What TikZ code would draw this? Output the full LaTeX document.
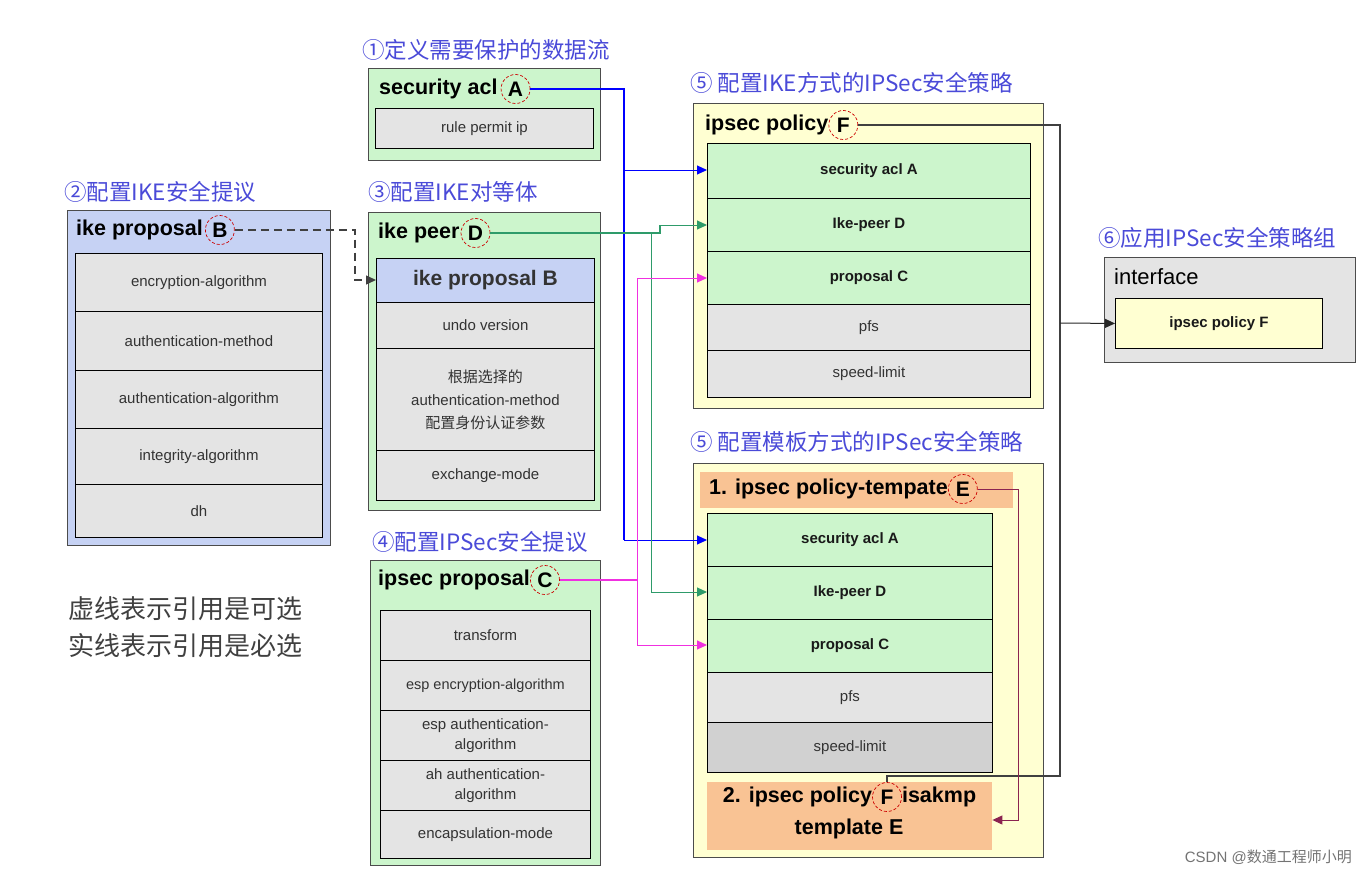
\documentclass[tikz,border=0pt]{standalone}
\usepackage{fontspec}
\setmainfont{Liberation Sans}
\newfontfamily\cjk{Noto Sans CJK SC}
\usetikzlibrary{arrows.meta}
\definecolor{gfill}{HTML}{CCF5CC}
\definecolor{grayf}{HTML}{E4E4E4}
\definecolor{bfill}{HTML}{C6D2F4}
\definecolor{yfill}{HTML}{FFFFD2}
\definecolor{ofill}{HTML}{F9C394}
\definecolor{ttl}{HTML}{4A4AD8}
\definecolor{dgreen}{HTML}{2E9B6A}
\definecolor{mag}{HTML}{F030E0}
\definecolor{dred}{HTML}{8B2350}
\begin{document}
\begin{tikzpicture}[x=1pt,y=-1pt,
  box/.style={draw=black!70,line width=1.2pt,anchor=north west,inner sep=0pt},
  row/.style={draw=black,line width=0.9pt,anchor=north west,inner sep=0pt,font=\fontsize{15}{17}\selectfont,align=center,text=black!80},
  brow/.style={row,fill=gfill,font=\bfseries\fontsize{15}{17}\selectfont,text=black!90},
  hdr/.style={anchor=west,font=\bfseries\fontsize{21.5}{24}\selectfont,inner sep=0pt},
  ttlst/.style={anchor=west,text=ttl,font=\cjk\fontsize{22.5}{26}\selectfont,inner sep=0pt},
  circ/.style={circle,draw=red!80!black,densely dashed,line width=0.7pt,minimum size=29pt,inner sep=0pt,font=\bfseries\fontsize{21}{23}\selectfont},
  arr/.style={-{Triangle[length=10pt,width=9pt]},line width=1pt}]
\useasboundingbox (0,0) rectangle (1366,875);
% titles
\node[ttlst] (t1) at (362,50) {①定义需要保护的数据流};
\node[ttlst] (t2) at (64,192) {②配置IKE安全提议};
\node[ttlst] (t3) at (368,192) {③配置IKE对等体};
\node[ttlst] (t4) at (372,542) {④配置IPSec安全提议};
\node[ttlst] (t5) at (690,83) {⑤ 配置IKE方式的IPSec安全策略};
\node[ttlst] (t6) at (690,442) {⑤ 配置模板方式的IPSec安全策略};
\node[ttlst] (t7) at (1098,238) {⑥应用IPSec安全策略组};
% security acl
\node[box,fill=gfill,minimum width=232pt,minimum height=92pt] (acl) at (368,68) {};
\node[hdr] (aclh) at (379,89) {security acl};
\node[circ,anchor=west] (A) at ([xshift=3pt]aclh.east) {A};
\node[row,fill=grayf,minimum width=218pt,minimum height=40pt] (r1) at (375,108) {rule permit ip};
% ike proposal
\node[box,fill=bfill,minimum width=263pt,minimum height=335pt] (ikep) at (67,210) {};
\node[hdr] (ikeph) at (76,230) {ike proposal};
\node[circ,anchor=west] (B) at ([xshift=2pt]ikeph.east) {B};
\node[row,fill=grayf,minimum width=247pt,minimum height=58pt] (b1) at (75,253) {encryption-algorithm};
\node[row,fill=grayf,minimum width=247pt,minimum height=59pt] (b2) at (75,311) {authentication-method};
\node[row,fill=grayf,minimum width=247pt,minimum height=58pt] (b3) at (75,370) {authentication-algorithm};
\node[row,fill=grayf,minimum width=247pt,minimum height=56pt] (b4) at (75,428) {integrity-algorithm};
\node[row,fill=grayf,minimum width=247pt,minimum height=53pt] (b5) at (75,484) {dh};
% ike peer
\node[box,fill=gfill,minimum width=232pt,minimum height=298pt] (peer) at (368,212) {};
\node[hdr] (peerh) at (378,233) {ike peer};
\node[circ,anchor=west] (D) at ([xshift=1pt]peerh.east) {D};
\node[row,fill=bfill,minimum width=218pt,minimum height=44pt,font=\bfseries\fontsize{21}{23}\selectfont] (d1) at (376,258) {ike proposal B};
\node[row,fill=grayf,minimum width=218pt,minimum height=46pt] (d2) at (376,302) {undo version};
\node[row,fill=grayf,minimum width=218pt,minimum height=102pt,font=\fontsize{15}{23}\selectfont] (d3) at (376,348) {{\cjk 根据选择的}\\authentication-method\\{\cjk 配置身份认证参数}};
\node[row,fill=grayf,minimum width=218pt,minimum height=50pt] (d4) at (376,450) {exchange-mode};
% ipsec proposal
\node[box,fill=gfill,minimum width=230pt,minimum height=305pt] (ipp) at (370,560) {};
\node[hdr] (ipph) at (378,580) {ipsec proposal};
\node[circ,anchor=west] (C) at (ipph.east) {C};
\node[row,fill=grayf,minimum width=210pt,minimum height=50pt] (c1) at (380,610) {transform};
\node[row,fill=grayf,minimum width=210pt,minimum height=50pt,font=\fontsize{14.5}{17}\selectfont] (c2) at (380,660) {esp encryption-algorithm};
\node[row,fill=grayf,minimum width=210pt,minimum height=50pt,font=\fontsize{15}{20}\selectfont] (c3) at (380,710) {esp authentication-\\algorithm};
\node[row,fill=grayf,minimum width=210pt,minimum height=50pt,font=\fontsize{15}{20}\selectfont] (c4) at (380,760) {ah authentication-\\algorithm};
\node[row,fill=grayf,minimum width=210pt,minimum height=48pt] (c5) at (380,810) {encapsulation-mode};
% ipsec policy (IKE)
\node[box,fill=yfill,minimum width=350pt,minimum height=305pt] (pol) at (693,103) {};
\node[hdr] (polh) at (705,125) {ipsec policy};
\node[circ,anchor=west] (F) at (polh.east) {F};
\node[brow,minimum width=323pt,minimum height=55pt] (p1) at (707,143) {security acl A};
\node[brow,minimum width=323pt,minimum height=53pt] (p2) at (707,198) {Ike-peer D};
\node[brow,minimum width=323pt,minimum height=53pt] (p3) at (707,251) {proposal C};
\node[row,fill=grayf,minimum width=323pt,minimum height=46pt] (p4) at (707,304) {pfs};
\node[row,fill=grayf,minimum width=323pt,minimum height=47pt] (p5) at (707,350) {speed-limit};
% template policy
\node[box,fill=yfill,minimum width=350pt,minimum height=394pt] (tpl) at (693,463) {};
\node[anchor=north west,fill=ofill,minimum width=313pt,minimum height=36pt,inner sep=0pt] (th) at (700,472) {};
\node[hdr] (thl) at (709,489) {1. ipsec policy-tempate};
\node[circ,anchor=west] (E) at (thl.east) {E};
\node[brow,minimum width=285pt,minimum height=53pt] (q1) at (707,513) {security acl A};
\node[brow,minimum width=285pt,minimum height=53pt] (q2) at (707,566) {Ike-peer D};
\node[brow,minimum width=285pt,minimum height=53pt] (q3) at (707,619) {proposal C};
\node[row,fill=grayf,minimum width=285pt,minimum height=50pt] (q4) at (707,672) {pfs};
\node[row,fill=black!18,minimum width=285pt,minimum height=50pt] (q5) at (707,722) {speed-limit};
\node[anchor=north west,fill=ofill,minimum width=285pt,minimum height=68pt,inner sep=0pt] (tb) at (707,782) {};
\node[circ] (F2) at (887,797) {F};
\node[hdr,anchor=east] (tb1) at (F2.west) {2. ipsec policy};
\node[hdr] (tb2) at (F2.east) {isakmp};
\node[hdr,anchor=center] (tb3) at (849,829) {template E};
% interface
\node[box,fill=grayf,minimum width=251pt,minimum height=105pt] (intf) at (1104,257) {};
\node[anchor=west,font=\fontsize{22}{24}\selectfont,inner sep=0pt] (intfh) at (1114,277) {interface};
\node[brow,fill=yfill,minimum width=207pt,minimum height=50pt] (i1) at (1115,298) {ipsec policy F};
% notes
\node[anchor=west,font=\cjk\fontsize{26}{30}\selectfont,text=black!75,inner sep=0pt] (n1) at (68,609) {虚线表示引用是可选};
\node[anchor=west,font=\cjk\fontsize{26}{30}\selectfont,text=black!75,inner sep=0pt] (n2) at (68,646) {实线表示引用是必选};
\node[anchor=east,font=\fontsize{15}{17}\selectfont,text=black!55,inner sep=0pt] (wm) at (1352,857) {CSDN @{\cjk 数通工程师小明}};
% connectors
\coordinate (jb) at (355,230);
\draw[arr,dash pattern=on 8pt off 5pt,line width=1.3pt,black!75] (B.east) -- (jb) |- (d1.west|-0,280);
\draw[blue,line width=1.2pt] (A.east) -| (624,540);
\draw[arr,blue] (624,170) -- (p1.west|-0,170);
\draw[arr,blue] (624,540) -- (q1.west|-0,540);
\draw[dgreen,line width=1.1pt] (D.east) -- (660,233) -- (660,225);
\draw[arr,dgreen] (660,225) -- (p2.west|-0,225);
\draw[arr,dgreen] (651,233) |- (q2.west|-0,592);
\draw[mag,line width=1.2pt] (C.east) -- (637,580);
\draw[arr,mag] (637,645) |- (q3.west|-0,645);
\draw[arr,mag] (637,645) |- (p3.west|-0,278);
\draw[black!75,line width=1.2pt] (F.east) -| (1060,776) -| (F2.north);
\draw[arr,black!85] (1060,323) -- (i1.west);
\draw[arr,dred] (E.east) -| (1018,820) -- (tb.east|-0,820);
\end{tikzpicture}
\end{document}
